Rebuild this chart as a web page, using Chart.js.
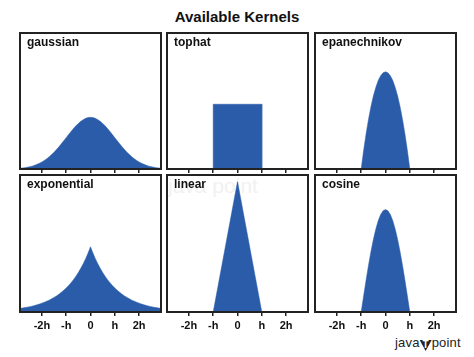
<!DOCTYPE html>
<html>
<head>
<meta charset="utf-8">
<script src="https://cdn.jsdelivr.net/npm/chart.js@4/dist/chart.umd.min.js"></script>
<style>
  html, body { margin: 0; padding: 0; background: #fff; }
  #wrap { position: relative; width: 474px; height: 357px; overflow: hidden; font-family: "Liberation Sans", Arial, sans-serif; }
  canvas { position: absolute; }
  #title { position: absolute; left: 0; width: 474px; top: 8px; text-align: center; font-weight: bold; font-size: 15px; color: #111; }
  #wm { position: absolute; left: 395px; top: 335px; font-size: 13px; color: #222; letter-spacing: 0.2px; }
  #wm .t { display: inline-block; width: 12px; height: 11px; background: #222; color: #fff; font-weight: bold; font-size: 10px; line-height: 9px; text-align: center; clip-path: polygon(0 0, 100% 0, 50% 100%); vertical-align: -1px; }
  #ghost { position: absolute; left: 168px; top: 174px; font-size: 21px; color: #f1f1f1; }
</style>
</head>
<body>
<div id="wrap">
  <div id="title">Available Kernels</div>
  <div id="ghost">java point</div>
  <div id="wm">java<span class="t">T</span>point</div>
</div>
<script>
// ---- data ----
const kernelNames = ["gaussian", "tophat", "epanechnikov", "exponential", "linear", "cosine"];
const tickValues = [-2, -1, 0, 1, 2];
const tickLabels = ["-2h", "-h", "0", "h", "2h"];

const smoothX = [-2.9,-2.8,-2.7,-2.6,-2.5,-2.4,-2.3,-2.2,-2.1,-2.0,-1.9,-1.8,-1.7,-1.6,-1.5,-1.4,-1.3,-1.2,-1.1,-1.0,
  -0.9,-0.8,-0.7,-0.6,-0.5,-0.4,-0.3,-0.2,-0.1,0,0.1,0.2,0.3,0.4,0.5,0.6,0.7,0.8,0.9,1.0,
  1.1,1.2,1.3,1.4,1.5,1.6,1.7,1.8,1.9,2.0,2.1,2.2,2.3,2.4,2.5,2.6,2.7,2.8,2.9];
const gaussianY = [0.006,0.008,0.010,0.014,0.018,0.022,0.028,0.036,0.044,0.054,0.066,0.079,0.094,0.111,0.130,0.150,0.171,0.194,0.218,0.242,
  0.266,0.290,0.312,0.333,0.352,0.368,0.381,0.391,0.397,0.399,0.397,0.391,0.381,0.368,0.352,0.333,0.312,0.290,0.266,0.242,
  0.218,0.194,0.171,0.150,0.130,0.111,0.094,0.079,0.066,0.054,0.044,0.036,0.028,0.022,0.018,0.014,0.010,0.008,0.006];
const exponentialY = [0.028,0.030,0.034,0.037,0.041,0.045,0.050,0.055,0.061,0.068,0.075,0.083,0.091,0.101,0.112,0.123,0.136,0.151,0.167,0.184,
  0.203,0.225,0.248,0.274,0.303,0.335,0.370,0.409,0.452,0.500,0.452,0.409,0.370,0.335,0.303,0.274,0.248,0.225,0.203,0.184,
  0.167,0.151,0.136,0.123,0.112,0.101,0.091,0.083,0.075,0.068,0.061,0.055,0.050,0.045,0.041,0.037,0.034,0.030,0.028];

const tophatX = [-2.9, -1.0, -1.0, 1.0, 1.0, 2.9];
const tophatY = [0, 0, 0.5, 0.5, 0, 0];

const bumpX = [-2.9,-1.0,-0.9,-0.8,-0.7,-0.6,-0.5,-0.4,-0.3,-0.2,-0.1,0,0.1,0.2,0.3,0.4,0.5,0.6,0.7,0.8,0.9,1.0,2.9];
const epanechnikovY = [0,0,0.143,0.270,0.383,0.480,0.563,0.630,0.683,0.720,0.743,0.750,0.743,0.720,0.683,0.630,0.563,0.480,0.383,0.270,0.143,0,0];
const cosineY = [0,0,0.123,0.243,0.357,0.462,0.555,0.635,0.700,0.747,0.776,0.785,0.776,0.747,0.700,0.635,0.555,0.462,0.357,0.243,0.123,0,0];

const linearX = [-2.9, -1.0, 0, 1.0, 2.9];
const linearY = [0, 0, 1.0, 0, 0];

const kernelX = [smoothX, tophatX, bumpX, smoothX, linearX, bumpX];
const kernelY = [gaussianY, tophatY, epanechnikovY, exponentialY, linearY, cosineY];

// ---- layout ----
const colLeft = [20, 167, 315];
const rowTop = [33, 175];
const panelW = 141;
const panelH = [136, 137];
const axisH = [6, 24];
const pad = 2;
const fillColor = "#2a5caa";
const edge = "#222222";

const framePlugin = {
  id: "frame",
  afterDraw(chart, args, opts) {
    const a = chart.chartArea, c = chart.ctx;
    c.save();
    c.strokeStyle = edge;
    c.lineWidth = 2;
    c.strokeRect(a.left, a.top, a.right - a.left, a.bottom - a.top);
    c.fillStyle = "#111";
    c.font = "bold 12px 'Liberation Sans', Arial, sans-serif";
    c.textBaseline = "middle";
    c.textAlign = "left";
    c.fillText(opts.label, a.left + 7, a.top + 10);
    c.restore();
  }
};

const wrap = document.getElementById("wrap");
kernelNames.forEach((name, i) => {
  const r = Math.floor(i / 3), col = i % 3;
  const cv = document.createElement("canvas");
  const w = panelW + 2 * pad, h = pad + panelH[r] + axisH[r];
  cv.width = w; cv.height = h;
  cv.style.left = (colLeft[col] - pad) + "px";
  cv.style.top = (rowTop[r] - pad) + "px";
  cv.style.width = w + "px"; cv.style.height = h + "px";
  wrap.appendChild(cv);
  const pts = kernelX[i].map((x, k) => ({ x: x, y: kernelY[i][k] }));
  new Chart(cv, {
    type: "line",
    data: { datasets: [{ data: pts, fill: "origin", backgroundColor: fillColor, borderColor: fillColor, borderWidth: 0.5, pointRadius: 0, tension: 0 }] },
    plugins: [framePlugin],
    options: {
      responsive: false, animation: false, devicePixelRatio: 1,
      layout: { padding: { left: pad, right: pad, top: pad, bottom: 0 } },
      plugins: { legend: { display: false }, tooltip: { enabled: false }, frame: { label: name } },
      scales: {
        x: {
          type: "linear", min: -2.9, max: 2.9,
          afterBuildTicks: s => { s.ticks = tickValues.map(v => ({ value: v })); },
          afterFit: s => { s.height = axisH[r]; },
          grid: { drawOnChartArea: false, drawTicks: true, tickLength: 4, color: edge, lineWidth: 1.5 },
          border: { display: false },
          ticks: {
            display: r === 1, padding: 3, color: "#111",
            font: { family: "'Liberation Sans', Arial, sans-serif", size: 11, weight: "bold" },
            maxRotation: 0,
            callback: v => tickLabels[tickValues.indexOf(v)]
          }
        },
        y: { display: false, min: 0, max: 1.05 }
      }
    }
  });
});
</script>
</body>
</html>
